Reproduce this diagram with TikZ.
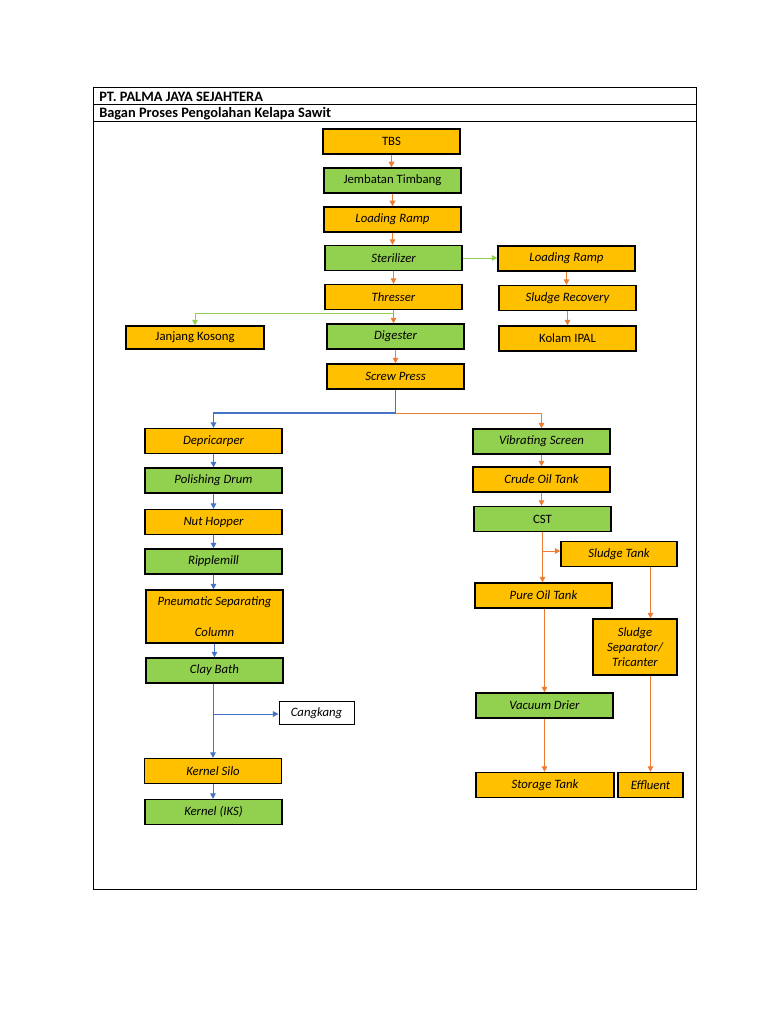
\documentclass[tikz,border=0pt]{standalone}
\usepackage{fontspec}
\setmainfont{Carlito}
\usepackage{tikz}
\usetikzlibrary{arrows.meta,positioning}
\definecolor{boxorange}{HTML}{FFC000}
\definecolor{boxgreen}{HTML}{92D050}
\definecolor{arrorange}{HTML}{ED7D31}
\definecolor{arrblue}{HTML}{4472C4}
\definecolor{arrgreen}{HTML}{92D050}
\tikzset{
  orangebox/.style={draw=black,fill=boxorange,line width=1pt,
                    minimum width=109.6pt,minimum height=20pt,
                    inner sep=1pt,align=center,font=\fontsize{10.2}{12}\selectfont\itshape},
  greenbox/.style={draw=black,fill=boxgreen,line width=1pt,
                   minimum width=109.6pt,minimum height=20pt,
                   inner sep=1pt,align=center,font=\fontsize{10.2}{12}\selectfont\itshape},
  whitebox/.style={draw=black,fill=white,line width=0.8pt,
                   minimum width=60pt,minimum height=19pt,
                   inner sep=1pt,align=center,font=\fontsize{10.2}{12}\selectfont\itshape},
  upright/.style={font=\fontsize{10.2}{12}\selectfont\upshape},
  orangearr/.style={-{Triangle[length=4.5pt,width=4.5pt]},line width=0.8pt,
                    draw=arrorange},
  bluearr/.style={-{Triangle[length=4.5pt,width=4.5pt]},line width=0.8pt,
                  draw=arrblue},
  greenarr/.style={-{Triangle[length=4.5pt,width=4.5pt]},line width=0.8pt,
                   draw=arrgreen}
}
\begin{document}
\begin{tikzpicture}[x=0.8pt,y=-0.8pt]
    \path[use as bounding box] (0,0) rectangle (768,1024);
    % frame and title rows
    \draw[line width=0.8pt] (93,88) rectangle (696,889);
    \draw[line width=0.8pt] (93,105) -- (696,105);
    \draw[line width=0.8pt] (93,122) -- (696,122);
    \node[anchor=west,font=\fontsize{11.5}{13}\selectfont\bfseries,inner sep=0pt]
      (company) at (99,96.5) {PT. PALMA JAYA SEJAHTERA};
    \node[anchor=west,font=\fontsize{11.5}{13}\selectfont\bfseries,inner sep=0pt]
      (title) at (99,113.5) {Bagan Proses Pengolahan Kelapa Sawit};

    % main line
    \node[orangebox,upright] (tbs) at (391.5,141.5) {TBS};
    \node[greenbox,upright] (jembatan) at (392.5,180.5) {Jembatan Timbang};
    \node[orangebox] (loading) at (392.5,219.5) {Loading Ramp};
    \node[greenbox] (sterilizer) at (393.5,258) {Sterilizer};
    \node[orangebox] (thresser) at (393.5,297) {Thresser};
    \node[greenbox] (digester) at (395.5,336.5) {Digester};
    \node[orangebox] (screw) at (395.5,376.5) {Screw Press};
    \draw[orangearr] (tbs.south) -- (tbs.south |- jembatan.north);
    \draw[orangearr] (jembatan.south) -- (jembatan.south |- loading.north);
    \draw[orangearr] (loading.south) -- (loading.south |- sterilizer.north);
    \draw[orangearr] (sterilizer.south) -- (sterilizer.south |- thresser.north);
    \draw[orangearr] (thresser.south) -- (thresser.south |- digester.north);
    \draw[orangearr] (digester.south) -- (digester.south |- screw.north);

    % waste water branch
    \node[orangebox] (loading2) at (566.5,258.5) {Loading Ramp};
    \node[orangebox] (sludgerec) at (567.5,298) {Sludge Recovery};
    \node[orangebox,upright] (kolam) at (567.5,338.5) {Kolam IPAL};
    \draw[greenarr] (sterilizer.east) -- (sterilizer.east -| loading2.west);
    \draw[orangearr] (loading2.south) -- (loading2.south |- sludgerec.north);
    \draw[orangearr] (sludgerec.south) -- (sludgerec.south |- kolam.north);

    % empty bunches
    \node[orangebox,upright,minimum width=110.4pt,minimum height=18.4pt]
      (janjang) at (195,337.5) {Janjang Kosong};
    \coordinate (tsplit) at (393.5,313);
    \draw[greenarr] (tsplit) -| (janjang.north);

    % split after the press
    \coordinate (spsplit) at (395.5,413);
    \node[orangebox] (depri) at (213.5,441) {Depricarper};
    \node[greenbox] (vibrating) at (541.5,441.5) {Vibrating Screen};
    \draw[orangearr] (spsplit) -| (vibrating.north);
    \draw[bluearr,line width=1.2pt] (screw.south) -- (spsplit) -| (depri.north);

    % kernel line
    \node[greenbox] (polishing) at (213.5,480.5) {Polishing Drum};
    \node[orangebox] (nuthopper) at (213.5,522) {Nut Hopper};
    \node[greenbox] (ripple) at (213.5,561.5) {Ripplemill};
    \node[orangebox,minimum height=42.4pt] (pneumatic) at (214.5,616.5)
      {Pneumatic Separating\\[1.2em]Column};
    \node[greenbox] (claybath) at (214.5,670.5) {Clay Bath};
    \node[whitebox] (cangkang) at (316.5,713) {Cangkang};
    \node[orangebox] (kernelsilo) at (213,771) {Kernel Silo};
    \node[greenbox] (kernel) at (213.5,812) {Kernel (IKS)};
    \draw[bluearr] (depri.south) -- (depri.south |- polishing.north);
    \draw[bluearr] (polishing.south) -- (polishing.south |- nuthopper.north);
    \draw[bluearr] (nuthopper.south) -- (nuthopper.south |- ripple.north);
    \draw[bluearr] (ripple.south) -- (ripple.south |- pneumatic.north);
    \draw[bluearr] (pneumatic.south) -- (pneumatic.south |- claybath.north);
    \draw[bluearr] (claybath.south -| kernelsilo.north) -- (kernelsilo.north);
    \coordinate (cbsplit) at (213,714);
    \draw[bluearr] (cbsplit) -- (cbsplit -| cangkang.west);
    \draw[bluearr] (kernelsilo.south) -- (kernelsilo.south |- kernel.north);

    % oil line
    \node[orangebox] (crude) at (541.5,479.5) {Crude Oil Tank};
    \node[greenbox,upright] (cst) at (542.5,519) {CST};
    \node[orangebox,minimum width=92.8pt] (sludgetank) at (619,554) {Sludge Tank};
    \node[orangebox,minimum width=67.2pt,minimum height=44.8pt] (separator)
      at (635,647) {Sludge\\Separator/\\Tricanter};
    \node[orangebox] (pureoil) at (543.5,595.5) {Pure Oil Tank};
    \node[greenbox] (vacuum) at (544.5,705.5) {Vacuum Drier};
    \node[orangebox,minimum width=110.4pt] (storage) at (545,785) {Storage Tank};
    \node[orangebox,minimum width=52pt] (effluent) at (650.5,785) {Effluent};
    \draw[orangearr] (vibrating.south) -- (vibrating.south |- crude.north);
    \draw[orangearr] (crude.south) -- (crude.south |- cst.north);
    \draw[orangearr] (cst.south) -- (cst.south |- pureoil.north);
    \coordinate (cstsplit) at (542.5,551);
    \draw[orangearr] (cstsplit) -- (cstsplit -| sludgetank.west);
    \draw[orangearr] (sludgetank.south -| effluent.north) -- (separator.north -| effluent.north);
    \draw[orangearr] (pureoil.south -| vacuum.north) -- (vacuum.north);
    \draw[orangearr] (vacuum.south) -- (vacuum.south |- storage.north);
    \draw[orangearr] (separator.south -| effluent.north) -- (effluent.north);
  \end{tikzpicture}
\end{document}
